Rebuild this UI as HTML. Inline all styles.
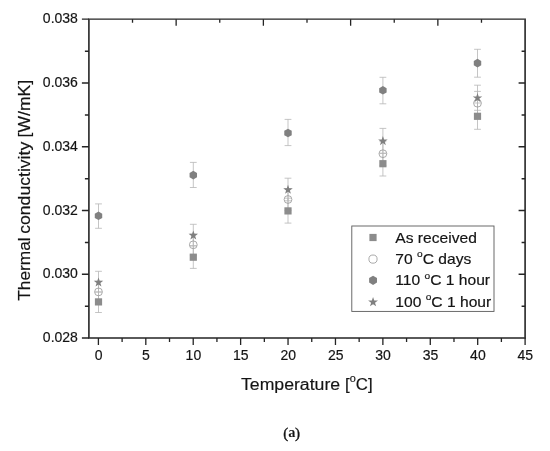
<!DOCTYPE html>
<html><head><meta charset="utf-8"><title>Thermal conductivity</title>
<style>
html,body{margin:0;padding:0;background:#fff;}
svg{display:block}
svg text{font-family:"Liberation Sans",Arial,sans-serif;fill:#141414;stroke:#141414;stroke-width:0.18px}
svg text.cap{font-family:"Liberation Serif","DejaVu Serif",serif;stroke:none}
svg .pb{stroke:#1c1c1c;stroke-width:0.4px}
</style></head><body>
<svg width="550" height="451" viewBox="0 0 550 451">
<rect width="550" height="451" fill="#fff"/>
<path d="M98.5 292.0V312.5M95.1 292.0h6.8M95.1 312.5h6.8" stroke="#b6b6b6" stroke-width="0.8" fill="none"/>
<path d="M98.5 281.3V302.5M95.1 281.3h6.8M95.1 302.5h6.8" stroke="#b6b6b6" stroke-width="0.8" fill="none"/>
<path d="M98.5 203.9V228.3M95.1 203.9h6.8M95.1 228.3h6.8" stroke="#b6b6b6" stroke-width="0.8" fill="none"/>
<path d="M98.5 271.3V292.0M95.1 271.3h6.8M95.1 292.0h6.8" stroke="#b6b6b6" stroke-width="0.8" fill="none"/>
<path d="M193.3 245.8V268.4M189.9 245.8h6.8M189.9 268.4h6.8" stroke="#b6b6b6" stroke-width="0.8" fill="none"/>
<path d="M193.3 234.2V255.4M189.9 234.2h6.8M189.9 255.4h6.8" stroke="#b6b6b6" stroke-width="0.8" fill="none"/>
<path d="M193.3 162.4V187.5M189.9 162.4h6.8M189.9 187.5h6.8" stroke="#b6b6b6" stroke-width="0.8" fill="none"/>
<path d="M193.3 224.3V245.8M189.9 224.3h6.8M189.9 245.8h6.8" stroke="#b6b6b6" stroke-width="0.8" fill="none"/>
<path d="M288.0 198.2V223.1M284.6 198.2h6.8M284.6 223.1h6.8" stroke="#b6b6b6" stroke-width="0.8" fill="none"/>
<path d="M288.0 188.6V210.4M284.6 188.6h6.8M284.6 210.4h6.8" stroke="#b6b6b6" stroke-width="0.8" fill="none"/>
<path d="M288.0 119.4V145.6M284.6 119.4h6.8M284.6 145.6h6.8" stroke="#b6b6b6" stroke-width="0.8" fill="none"/>
<path d="M288.0 178.2V200.8M284.6 178.2h6.8M284.6 200.8h6.8" stroke="#b6b6b6" stroke-width="0.8" fill="none"/>
<path d="M382.9 153.3V176.0M379.5 153.3h6.8M379.5 176.0h6.8" stroke="#b6b6b6" stroke-width="0.8" fill="none"/>
<path d="M382.9 141.7V165.7M379.5 141.7h6.8M379.5 165.7h6.8" stroke="#b6b6b6" stroke-width="0.8" fill="none"/>
<path d="M382.9 77.3V103.8M379.5 77.3h6.8M379.5 103.8h6.8" stroke="#b6b6b6" stroke-width="0.8" fill="none"/>
<path d="M382.9 128.4V153.3M379.5 128.4h6.8M379.5 153.3h6.8" stroke="#b6b6b6" stroke-width="0.8" fill="none"/>
<path d="M477.5 103.0V129.3M474.1 103.0h6.8M474.1 129.3h6.8" stroke="#b6b6b6" stroke-width="0.8" fill="none"/>
<path d="M477.5 91.4V115.0M474.1 91.4h6.8M474.1 115.0h6.8" stroke="#b6b6b6" stroke-width="0.8" fill="none"/>
<path d="M477.5 49.3V77.2M474.1 49.3h6.8M474.1 77.2h6.8" stroke="#b6b6b6" stroke-width="0.8" fill="none"/>
<path d="M477.5 85.2V110.3M474.1 85.2h6.8M474.1 110.3h6.8" stroke="#b6b6b6" stroke-width="0.8" fill="none"/>
<rect x="94.90" y="298.30" width="7.2" height="7.2" fill="#8c8c8c"/>
<circle cx="98.5" cy="291.9" r="3.9" fill="none" stroke="#a0a0a0" stroke-width="0.9"/>
<polygon points="98.50,211.50 94.78,213.65 94.78,217.95 98.50,220.10 102.22,217.95 102.22,213.65" fill="#808080"/>
<polygon points="98.50,277.40 97.32,280.78 93.74,280.85 96.60,283.02 95.56,286.45 98.50,284.40 101.44,286.45 100.40,283.02 103.26,280.85 99.68,280.78" fill="#808080"/>
<rect x="189.70" y="253.60" width="7.2" height="7.2" fill="#8c8c8c"/>
<circle cx="193.3" cy="244.8" r="3.9" fill="none" stroke="#a0a0a0" stroke-width="0.9"/>
<polygon points="193.30,170.80 189.58,172.95 189.58,177.25 193.30,179.40 197.02,177.25 197.02,172.95" fill="#808080"/>
<polygon points="193.30,230.40 192.12,233.78 188.54,233.85 191.40,236.02 190.36,239.45 193.30,237.40 196.24,239.45 195.20,236.02 198.06,233.85 194.48,233.78" fill="#808080"/>
<rect x="284.40" y="207.30" width="7.2" height="7.2" fill="#8c8c8c"/>
<circle cx="288.0" cy="199.5" r="3.9" fill="none" stroke="#a0a0a0" stroke-width="0.9"/>
<polygon points="288.00,128.70 284.28,130.85 284.28,135.15 288.00,137.30 291.72,135.15 291.72,130.85" fill="#808080"/>
<polygon points="288.00,184.80 286.82,188.18 283.24,188.25 286.10,190.42 285.06,193.85 288.00,191.80 290.94,193.85 289.90,190.42 292.76,188.25 289.18,188.18" fill="#808080"/>
<rect x="379.30" y="160.10" width="7.2" height="7.2" fill="#8c8c8c"/>
<circle cx="382.9" cy="153.7" r="3.9" fill="none" stroke="#a0a0a0" stroke-width="0.9"/>
<polygon points="382.90,86.00 379.18,88.15 379.18,92.45 382.90,94.60 386.62,92.45 386.62,88.15" fill="#808080"/>
<polygon points="382.90,136.10 381.72,139.48 378.14,139.55 381.00,141.72 379.96,145.15 382.90,143.10 385.84,145.15 384.80,141.72 387.66,139.55 384.08,139.48" fill="#808080"/>
<rect x="473.90" y="112.70" width="7.2" height="7.2" fill="#8c8c8c"/>
<circle cx="477.5" cy="103.2" r="3.9" fill="none" stroke="#a0a0a0" stroke-width="0.9"/>
<polygon points="477.50,58.80 473.78,60.95 473.78,65.25 477.50,67.40 481.22,65.25 481.22,60.95" fill="#808080"/>
<polygon points="477.50,93.00 476.32,96.38 472.74,96.45 475.60,98.62 474.56,102.05 477.50,100.00 480.44,102.05 479.40,98.62 482.26,96.45 478.68,96.38" fill="#808080"/>
<path d="M88.05000000000001 19.2H525.95M88.05000000000001 338.0H525.95" fill="none" stroke="#242424" stroke-width="1.3"/>
<path d="M88.9 19.2V338.0M525.1 19.2V338.0" fill="none" stroke="#333" stroke-width="1.7"/>
<path d="M88.9 338.00h-7M88.9 19.20h-7M98.40 338.0v7M122.11 338.0v4M145.81 338.0v7M169.52 338.0v4M193.22 338.0v7M216.93 338.0v4M240.63 338.0v7M264.34 338.0v4M288.04 338.0v7M311.75 338.0v4M335.46 338.0v7M359.16 338.0v4M382.87 338.0v7M406.57 338.0v4M430.28 338.0v7M453.98 338.0v4M477.69 338.0v7M501.39 338.0v4M525.10 338.0v7M132.52 19.2v3.5M176.14 19.2v6.5M219.76 19.2v3.5M263.38 19.2v6.5M307.00 19.2v3.5M350.62 19.2v6.5M394.24 19.2v3.5M437.86 19.2v6.5M481.48 19.2v3.5" fill="none" stroke="#242424" stroke-width="1.3"/>
<path d="M88.9 306.22h-4M525.1 306.22h-3.5M88.9 274.34h-7M525.1 274.34h-6.5M88.9 242.46h-4M525.1 242.46h-3.5M88.9 210.58h-7M525.1 210.58h-6.5M88.9 178.70h-4M525.1 178.70h-3.5M88.9 146.82h-7M525.1 146.82h-6.5M88.9 114.94h-4M525.1 114.94h-3.5M88.9 83.06h-7M525.1 83.06h-6.5M88.9 51.18h-4M525.1 51.18h-3.5" fill="none" stroke="#242424" stroke-width="1.5"/>
<text x="77.9" y="342.0" text-anchor="end" font-size="14">0.028</text>
<text x="77.9" y="278.2" text-anchor="end" font-size="14">0.030</text>
<text x="77.9" y="214.5" text-anchor="end" font-size="14">0.032</text>
<text x="77.9" y="150.7" text-anchor="end" font-size="14">0.034</text>
<text x="77.9" y="87.0" text-anchor="end" font-size="14">0.036</text>
<text x="77.9" y="23.2" text-anchor="end" font-size="14">0.038</text>
<text x="98.6" y="360" text-anchor="middle" font-size="14">0</text>
<text x="146.0" y="360" text-anchor="middle" font-size="14">5</text>
<text x="193.4" y="360" text-anchor="middle" font-size="14">10</text>
<text x="240.8" y="360" text-anchor="middle" font-size="14">15</text>
<text x="288.2" y="360" text-anchor="middle" font-size="14">20</text>
<text x="335.7" y="360" text-anchor="middle" font-size="14">25</text>
<text x="383.1" y="360" text-anchor="middle" font-size="14">30</text>
<text x="430.5" y="360" text-anchor="middle" font-size="14">35</text>
<text x="477.9" y="360" text-anchor="middle" font-size="14">40</text>
<text x="525.3" y="360" text-anchor="middle" font-size="14">45</text>
<text x="241.0" y="389.9" font-size="17.3" textLength="99.1" lengthAdjust="spacingAndGlyphs">Temperature</text>
<text x="345.0" y="389.9" font-size="17.3" textLength="27.6" lengthAdjust="spacingAndGlyphs">[<tspan font-size="11.2" dy="-8.2">o</tspan><tspan dy="8.2">C]</tspan></text>
<text transform="translate(30.3 300.7) rotate(-90)" font-size="17" textLength="63.4" lengthAdjust="spacingAndGlyphs">Thermal</text>
<text transform="translate(30.3 233.75) rotate(-90)" font-size="17" textLength="91.95" lengthAdjust="spacingAndGlyphs">conductivity</text>
<text transform="translate(30.3 137.4) rotate(-90)" font-size="17" textLength="57.6" lengthAdjust="spacingAndGlyphs">[W/mK]</text>
<rect x="351.8" y="226.0" width="142.2" height="85.4" fill="#fff" stroke="#5a5a5a" stroke-width="0.9"/>
<rect x="369.40" y="233.90" width="7.2" height="7.2" fill="#8c8c8c"/>
<circle cx="373.0" cy="259.1" r="4.1" fill="none" stroke="#a0a0a0" stroke-width="0.9"/>
<polygon points="373.05,275.80 369.11,278.08 369.11,282.62 373.05,284.90 376.99,282.62 376.99,278.08" fill="#808080"/>
<polygon points="373.05,296.90 371.85,300.44 368.10,300.49 371.10,302.73 369.99,306.31 373.05,304.15 376.11,306.31 375.00,302.73 378.00,300.49 374.25,300.44" fill="#808080"/>
<text transform="translate(395.3 242.5) scale(1.045 1)" font-size="14.95">As received</text>
<text transform="translate(395.3 263.9) scale(1.045 1)" font-size="14.95">70 <tspan font-size="9.7" dy="-6.9">o</tspan><tspan dy="6.9">C days</tspan></text>
<text transform="translate(395.3 285.4) scale(1.045 1)" font-size="14.95">110 <tspan font-size="9.7" dy="-6.9">o</tspan><tspan dy="6.9">C 1 hour</tspan></text>
<text transform="translate(395.3 307.0) scale(1.045 1)" font-size="14.95">100 <tspan font-size="9.7" dy="-6.9">o</tspan><tspan dy="6.9">C 1 hour</tspan></text>
<text class="cap" font-size="15"><tspan x="283.3" y="437.6" class="pb">(</tspan><tspan x="288.2" y="437.2" font-size="14.3" font-weight="bold">a</tspan><tspan x="295.1" y="437.6" class="pb">)</tspan></text>
</svg>
</body></html>
